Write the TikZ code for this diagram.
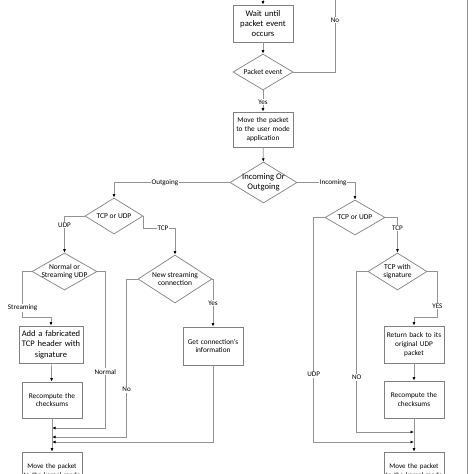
\documentclass[tikz,border=0pt]{standalone}
\usepackage{fontspec}
\setmainfont{Carlito}
\usetikzlibrary{positioning, calc, shapes.geometric, arrows.meta}

\begin{document}
\begin{tikzpicture}[x=1pt, y=-1pt,
	box/.style={draw=gray, line width=0.7pt, fill=white, align=center, inner sep=1pt, minimum width=60pt, text width=58pt, font=\fontsize{7.3}{8.6}\selectfont},
	decision/.style={diamond, aspect=1.7, draw=gray, line width=0.7pt, fill=white, align=center, inner sep=-6pt, font=\fontsize{7.5}{8.8}\selectfont},
	line/.style={draw=gray!85, line width=0.7pt},
	arr/.style={line, -{Latex[length=3.5pt, width=3pt, black]}},
	lbl/.style={fill=white, inner sep=0.8pt, font=\fontsize{7.1}{8}\selectfont}]
			\clip (0,0) rectangle (474,474);
			\coordinate (t0) at (263,0);
			\coordinate (t1) at (335,0);
			\coordinate (e0) at (467,0);
			\coordinate (e1) at (467,474);
			\coordinate (m1) at (52,428);
			\coordinate (m2) at (52,437);
			\coordinate (m3) at (52,442);
			\coordinate (m4) at (414,432);
			\coordinate (m5) at (414,442);
			
			\node (0) at (263,23.5) [box, minimum height=37pt, font=\fontsize{8.6}{10.2}\selectfont] {Wait until\\packet event\\occurs};
			\node (1) at (263,72) [decision, minimum width=60pt, minimum height=36pt] {Packet event};
			\node (2) at (263,129.5) [box, minimum height=35pt] {Move the packet\\to the user mode\\application};
			\node (3) at (263.5,182.5) [decision, minimum width=67pt, minimum height=41pt, font=\fontsize{8.6}{10}\selectfont] {Incoming Or\\Outgoing};
			\node (4) at (114,216) [decision, minimum width=58pt, minimum height=36pt] {TCP or UDP};
			\node (5) at (355,217.5) [decision, minimum width=60pt, minimum height=35pt] {TCP or UDP};
			\node (6) at (64.5,271.5) [decision, minimum width=65pt, minimum height=37pt] {Normal or\\Streaming UDP};
			\node (7) at (175,279) [decision, aspect=1.55, minimum width=74pt, minimum height=48pt] {New streaming\\connection};
			\node (8) at (397.5,271.5) [decision, aspect=1.6, minimum width=59pt, minimum height=37pt] {TCP with\\signature};
			\node (9) at (51,344.5) [box, minimum width=64pt, text width=62pt, minimum height=37pt, font=\fontsize{8.5}{10.5}\selectfont] {Add a fabricated\\TCP header with\\signature};
			\node (10) at (213,346) [box, minimum height=38pt] {Get connection's\\information};
			\node (11) at (414,344.5) [box, minimum height=37pt] {Return back to its\\original UDP\\packet};
			\node (12) at (52,400) [box, minimum height=36pt] {Recompute the\\checksums};
			\node (13) at (414,399.5) [box, minimum height=37pt] {Recompute the\\checksums};
			\node (14) at (52,470.5) [box, minimum height=37pt, font=\fontsize{7}{8.6}\selectfont] {Move the packet\\to\ the\ kernel\ mode};
			\node (15) at (414,470.5) [box, minimum height=37pt, font=\fontsize{7}{8.6}\selectfont] {Move the packet\\to\ the\ kernel\ mode};
			
			\draw[arr] (t0) to (0);
			\draw[arr] (0) to (1);
			\draw[arr] (1) to node[lbl, pos=0.55] {Yes} (2);
			\draw[line] (1.east) -| node[lbl, pos=0.86] {No} (t1);
			\draw[arr] (2) to (3);
			\draw[arr] (3.west) -| node[lbl, pos=0.28] {Outgoing} (4.north);
			\draw[arr] (3.east) -| node[lbl, pos=0.31] {Incoming} (5.north);
			
			\draw[arr] (4.west) -| node[lbl, pos=0.62] {UDP} (6.north);
			\draw[arr] (4.east) -- ++(0,12) -| node[lbl, pos=0.31] {TCP} (7.north);
			\draw[arr] (6.west) -| ++(-9,45.5) node[lbl, pos=0.9] {Streaming} -| (9.north);
			\draw[arr] (6.east) -| ++(8,156.5) node[lbl, pos=0.82] {Normal} -- (m1);
			\draw[arr] (7.west) -| ++(-11,158) node[lbl, pos=0.85] {No} -- (m2);
			\draw[arr] (7.east) -| node[lbl, pos=0.75] {Yes} (10.north);
			\draw[arr] (10.south) |- (m3);
			\draw[arr] (9) to (12);
			\draw[arr] (12) to (14);
			
			\draw[arr] (5.west) -| ++(-11,224.5) node[lbl, pos=0.85] {UDP} -- (m5);
			\draw[arr] (5.east) -| node[lbl, pos=0.65] {TCP} (8.north);
			\draw[arr] (8.west) -| ++(-11,160.5) node[lbl, pos=0.83] {NO} -- (m4);
			\draw[arr] (8.east) -| ++(10,45.5) node[lbl, pos=0.88] {YES} -| (11.north);
			\draw[arr] (11) to (13);
			\draw[arr] (13) to (15);
			\draw[line] (e0) to (e1);
		\end{tikzpicture}
\end{document}
